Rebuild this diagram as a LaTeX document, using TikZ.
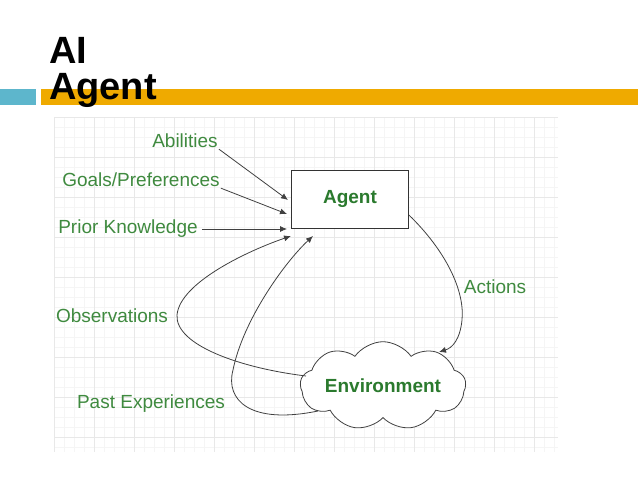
\documentclass[tikz,border=0pt]{standalone}
\usepackage{fontspec}
\setmainfont{Liberation Sans}
\usetikzlibrary{shapes.symbols,arrows.meta}

\definecolor{labelgreen}{HTML}{3F8A3F}
\definecolor{boldgreen}{HTML}{2B7A2E}
\definecolor{barcyan}{HTML}{5DB6CC}
\definecolor{barorange}{HTML}{EFAA00}

\begin{document}
\begin{tikzpicture}[x=1pt, y=-1pt,
    label/.style={text=labelgreen, font=\fontsize{19}{21}\selectfont, inner sep=1pt},
    box/.style={rectangle, draw=black!80, thick, fill=white, minimum width=117, minimum height=58,
      text=boldgreen, font=\fontsize{19}{21}\selectfont\bfseries},
    link/.style={-{Latex[length=7pt,width=6pt]}, draw=black!75, thick}]
    \useasboundingbox (0,0) rectangle (638,478);

    % title and bars
    \fill[barcyan] (0,89) rectangle (36,105);
    \fill[barorange] (41,89) rectangle (638,105);
    \node[anchor=base west, inner sep=0, font=\fontsize{38}{40}\selectfont\bfseries] (TitleA) at (49,64) {AI};
    \node[anchor=base west, inner sep=0, font=\fontsize{38}{40}\selectfont\bfseries] (TitleB) at (49,100) {Agent};

    % grid paper
    \foreach \gx in {54,64,...,558} \draw[black!4] (\gx,117) -- (\gx,452);
    \foreach \gy in {117,127,...,452} \draw[black!4] (54,\gy) -- (558,\gy);
    \foreach \gx in {54,94,...,558} \draw[black!9] (\gx,117) -- (\gx,452);
    \foreach \gy in {117,157,...,452} \draw[black!9] (54,\gy) -- (558,\gy);

    \node[box] (Agent) at (350,199) {Agent};
    \node[cloud, cloud puffs=9, cloud puff arc=110, aspect=2.6, draw=black!75, thick, fill=white,
      minimum width=140, minimum height=70, inner sep=0pt, text=boldgreen,
      font=\fontsize{19}{21}\selectfont\bfseries] (Env) at (383,386) {Environment};

    \node[label] (Abilities) at (185,141) {Abilities};
    \node[label] (Goals) at (141,180) {Goals/Preferences};
    \node[label] (Prior) at (128,229) {Prior Knowledge};
    \node[label] (Actions) at (495,287) {Actions};
    \node[label] (Obs) at (112,316) {Observations};
    \node[label] (Past) at (151,404) {Past Experiences};

    \coordinate (inA) at (288,200);
    \coordinate (inG) at (287,214);
    \coordinate (inP) at (287,229);
    \coordinate (inO) at (291,236);
    \coordinate (inE) at (313,236);
    \coordinate (outO) at (306,376);
    \coordinate (outE) at (318,411);
    \coordinate (inEnv) at (439,352);

    \draw[link] (Abilities.south east) -- (inA);
    \draw[link] (Goals.south east) -- (inG);
    \draw[link] (Prior.east) ++(3,0) -- (inP);
    \draw[link] (outO) .. controls (240,368) and (175,345) .. (177,315)
      .. controls (180,282) and (250,250) .. (inO);
    \draw[link] (outE) .. controls (250,425) and (225,400) .. (233,370)
      .. controls (243,320) and (285,262) .. (inE);
    \draw[link] (Agent.east |- 0,215) .. controls (445,250) and (465,290) .. (462,320)
      .. controls (460,340) and (452,348) .. (inEnv);
\end{tikzpicture}
\end{document}
